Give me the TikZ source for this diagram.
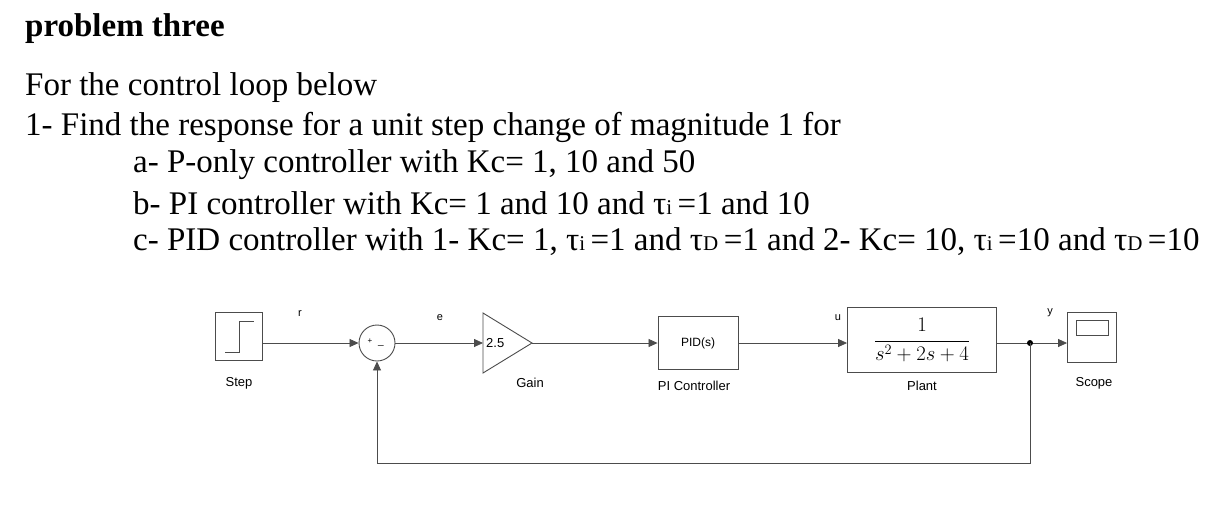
\documentclass[tikz,border=0pt]{standalone}
\usepackage{fontspec}
\setmainfont{Liberation Serif}
\newfontfamily\simsans{Liberation Sans}
\usetikzlibrary{arrows.meta}
\newcommand{\tsub}[1]{τ{\fontsize{21}{21}\selectfont #1}}
\begin{document}
\begin{tikzpicture}[x=1pt,y=-1pt,
  txt/.style={anchor=west,inner sep=0,font=\fontsize{33}{34}\selectfont},
  blk/.style={draw=black!70,line width=0.9pt,fill=white},
  lab/.style={font=\simsans\fontsize{13}{14}\selectfont,inner sep=0},
  sig/.style={draw=black!70,line width=0.8pt,-{Triangle[length=9pt,width=8pt]}},
  wire/.style={draw=black!70,line width=0.8pt}]
\useasboundingbox (0,0) rectangle (1218,512);
\node[txt,font=\bfseries\fontsize{33}{34}\selectfont] (t0) at (25,29) {problem three};
\node[txt] (t1) at (25,88) {For the control loop below};
\node[txt] (t2) at (25,127) {1- Find the response for a unit step change of magnitude 1 for};
\node[txt] (t3) at (133,165) {a- P-only controller with Kc= 1, 10 and 50};
\node[txt] (t4) at (133,203) {b- PI controller with Kc= 1 and 10 and \tsub{i}\,=1 and 10};
\node[txt] (t5) at (133,242) {c- PID controller with 1- Kc= 1, \tsub{i}\,=1 and \tsub{D}\,=1 and 2- Kc= 10, \tsub{i}\,=10 and \tsub{D}\,=10};
% blocks
\node[blk,minimum width=47,minimum height=48,inner sep=0] (step) at (239,336) {};
\draw[black!70,line width=0.9pt] (225,352) -- (239,352) -- (239,321) -- (254,321);
\node[blk,circle,minimum size=36,inner sep=0] (sum) at (377,343) {};
\node[font=\simsans\fontsize{8}{8}\selectfont] (plus) at (370,341) {+};
\node[font=\simsans\fontsize{10}{10}\selectfont] (minus) at (381,345) {\_};
\coordinate (gl) at (483,343);
\draw[blk] (483,313) -- (532,343) -- (483,373) -- cycle;
\node[lab,anchor=west] (gain) at (486,343) {2.5};
\coordinate (gr) at (532,343);
\node[blk,minimum width=80,minimum height=53,inner sep=0,font=\simsans\fontsize{12}{12}\selectfont] (pid) at (698,343) {PID(s)};
\node[blk,minimum width=149,minimum height=65,inner sep=0] (plant) at (922,340) {\fontsize{20}{22}\selectfont$\displaystyle\frac{1}{s^2+2s+4}$};
\node[blk,minimum width=49,minimum height=50,inner sep=0] (scope) at (1092,337) {};
\draw[black!70,line width=0.9pt] (1076,320) rectangle (1108,335);
% labels
\node[lab] (lstep) at (239,383) {Step};
\node[lab] (lgain) at (530,383) {Gain};
\node[lab] (lpid) at (694,386) {PI Controller};
\node[lab] (lplant) at (922,386) {Plant};
\node[lab] (lscope) at (1094,383) {Scope};
\node[lab,font=\simsans\fontsize{11}{11}\selectfont] (r) at (300,314) {r};
\node[lab,font=\simsans\fontsize{11}{11}\selectfont] (e) at (440,318) {e};
\node[lab,font=\simsans\fontsize{11}{11}\selectfont] (u) at (838,318) {u};
\node[lab,font=\simsans\fontsize{11}{11}\selectfont] (y) at (1050,313) {y};
% wires
\path[sig] (step.east |- 0,343) -- (sum.west);
\path[sig] (sum.east) -- (gl);
\path[sig] (gr) -- (pid.west);
\path[sig] (pid.east) -- (plant.west |- 0,343);
\coordinate (j) at (1030,343);
\path[wire] (plant.east |- 0,343) -- (j);
\path[sig] (j) -- (scope.west |- 0,343);
\fill[black] (j) circle (3);
\coordinate (c1) at (1030,463);
\coordinate (c2) at (377,463);
\path[sig] (j) -- (c1) -- (c2) -- (sum.south);
\end{tikzpicture}
\end{document}
